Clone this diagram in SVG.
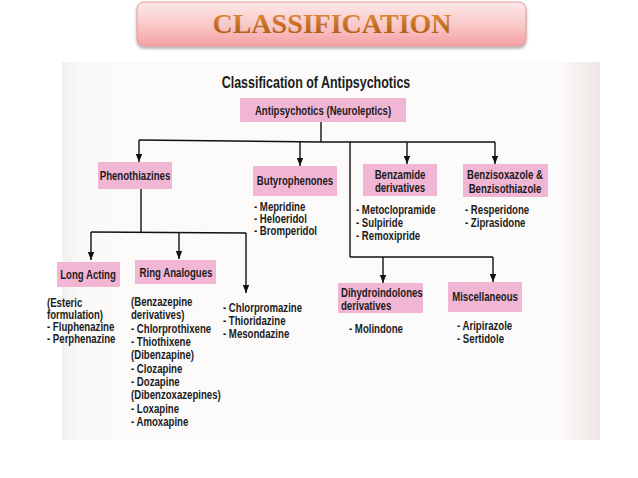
<svg xmlns="http://www.w3.org/2000/svg" width="638" height="478" viewBox="0 0 638 478">
<defs>
<linearGradient id="hdr" x1="0" y1="0" x2="0" y2="1">
<stop offset="0" stop-color="#fde9e9"/>
<stop offset="0.55" stop-color="#f9c6c6"/>
<stop offset="1" stop-color="#f3a0a3"/>
</linearGradient>
<linearGradient id="ttl" x1="0" y1="0" x2="0" y2="1">
<stop offset="0" stop-color="#eb9440"/>
<stop offset="1" stop-color="#a5520f"/>
</linearGradient>
<linearGradient id="page" x1="0" y1="0" x2="1" y2="0">
<stop offset="0" stop-color="#f3f1f0"/>
<stop offset="0.04" stop-color="#fbfaf9"/>
<stop offset="0.92" stop-color="#fcfbfb"/>
<stop offset="1" stop-color="#f1e5e5"/>
</linearGradient>
<marker id="ah" viewBox="0 0 10 8" refX="10" refY="4" markerWidth="8" markerHeight="6.5" markerUnits="userSpaceOnUse" orient="auto">
<path d="M0 0 L10 4 L0 8 Z" fill="#111"/>
</marker>
<filter id="sh" x="-5%" y="-20%" width="110%" height="150%">
<feDropShadow dx="0" dy="2" stdDeviation="1.5" flood-color="#000" flood-opacity="0.35"/>
</filter>
</defs>
<style>
.t{font-family:"Liberation Sans",Arial,sans-serif;font-weight:bold;font-size:12.5px;fill:#1c1c1c}
.m{text-anchor:middle}
.box{fill:#f2b6d5}
.ln{stroke:#111;stroke-width:1.4;fill:none}
</style>
<rect width="638" height="478" fill="#ffffff"/>
<rect x="62" y="62" width="538" height="378" fill="url(#page)"/>

<g id="header">
<rect x="137" y="2" width="389" height="44" rx="7" fill="url(#hdr)" stroke="#e29a9a" stroke-width="1" filter="url(#sh)"/>
<text x="332" y="33" text-anchor="middle" font-family="Liberation Serif, serif" font-weight="bold" font-size="28" fill="url(#ttl)">CLASSIFICATION</text>
</g>

<g id="title">
<text class="t m" transform="translate(316 88) scale(0.78 1)" style="font-size:16px">Classification of Antipsychotics</text>
</g>

<g id="connectors" class="ln">
<path d="M321 122 V142"/>
<path d="M139 140 L320 142 L495 142"/>
<path d="M139 140 V162" marker-end="url(#ah)"/>
<path d="M300 142 V166" marker-end="url(#ah)"/>
<path d="M350 142 V257"/>
<path d="M407 142 V164" marker-end="url(#ah)"/>
<path d="M495 142 V164" marker-end="url(#ah)"/>
<path d="M141 189 V232"/>
<path d="M91 232 L246 233"/>
<path d="M91 232 V260" marker-end="url(#ah)"/>
<path d="M179 232 V259" marker-end="url(#ah)"/>
<path d="M246 233 V293" marker-end="url(#ah)"/>
<path d="M350 257 H493"/>
<path d="M383 257 V283" marker-end="url(#ah)"/>
<path d="M493 257 V282" marker-end="url(#ah)"/>
</g>

<g id="root">
<rect class="box" x="240" y="98" width="166" height="24"/>
<text class="t m" transform="translate(323 115) scale(0.77 1)">Antipsychotics (Neuroleptics)</text>
</g>

<g id="phenothiazines">
<rect class="box" x="98" y="162" width="74" height="27"/>
<text class="t m" transform="translate(135 180) scale(0.77 1)">Phenothiazines</text>
</g>

<g id="butyrophenones">
<rect class="box" x="253" y="166" width="84" height="30"/>
<text class="t m" transform="translate(295 185) scale(0.77 1)">Butyrophenones</text>
<text class="t" transform="translate(254 211) scale(0.77 1)">- Mepridine</text>
<text class="t" transform="translate(254 223) scale(0.77 1)">- Heloeridol</text>
<text class="t" transform="translate(254 235) scale(0.77 1)">- Bromperidol</text>
</g>

<g id="benzamide">
<rect class="box" x="363" y="164" width="74" height="32"/>
<text class="t m" transform="translate(400 179) scale(0.77 1)">Benzamide</text>
<text class="t m" transform="translate(400 192) scale(0.77 1)">derivatives</text>
<text class="t" transform="translate(356 214) scale(0.77 1)">- Metoclopramide</text>
<text class="t" transform="translate(356 227) scale(0.77 1)">- Sulpiride</text>
<text class="t" transform="translate(356 240) scale(0.77 1)">- Remoxipride</text>
</g>

<g id="benzisoxazole">
<rect class="box" x="463" y="164" width="85" height="33"/>
<text class="t m" transform="translate(505 179) scale(0.77 1)">Benzisoxazole &amp;</text>
<text class="t m" transform="translate(505 193) scale(0.77 1)">Benzisothiazole</text>
<text class="t" transform="translate(465 214) scale(0.77 1)">- Resperidone</text>
<text class="t" transform="translate(465 227) scale(0.77 1)">- Ziprasidone</text>
</g>

<g id="long-acting">
<rect class="box" x="57" y="262" width="63" height="25"/>
<text class="t m" transform="translate(88 279) scale(0.77 1)">Long Acting</text>
<text class="t" transform="translate(47 307) scale(0.77 1)">(Esteric</text>
<text class="t" transform="translate(47 319) scale(0.77 1)">formulation)</text>
<text class="t" transform="translate(47 331) scale(0.77 1)">- Fluphenazine</text>
<text class="t" transform="translate(47 343) scale(0.77 1)">- Perphenazine</text>
</g>

<g id="ring-analogues">
<rect class="box" x="135" y="260" width="81" height="24"/>
<text class="t m" transform="translate(176 277) scale(0.77 1)">Ring Analogues</text>
<text class="t" transform="translate(131 306) scale(0.77 1)">(Benzazepine</text>
<text class="t" transform="translate(131 319) scale(0.77 1)">derivatives)</text>
<text class="t" transform="translate(131 333) scale(0.77 1)">- Chlorprothixene</text>
<text class="t" transform="translate(131 346) scale(0.77 1)">- Thiothixene</text>
<text class="t" transform="translate(131 359) scale(0.77 1)">(Dibenzapine)</text>
<text class="t" transform="translate(131 373) scale(0.77 1)">- Clozapine</text>
<text class="t" transform="translate(131 386) scale(0.77 1)">- Dozapine</text>
<text class="t" transform="translate(131 399) scale(0.77 1)">(Dibenzoxazepines)</text>
<text class="t" transform="translate(131 413) scale(0.77 1)">- Loxapine</text>
<text class="t" transform="translate(131 426) scale(0.77 1)">- Amoxapine</text>
</g>

<g id="chlorpromazine-group">
<text class="t" transform="translate(223 312) scale(0.77 1)">- Chlorpromazine</text>
<text class="t" transform="translate(223 325) scale(0.77 1)">- Thioridazine</text>
<text class="t" transform="translate(223 338) scale(0.77 1)">- Mesondazine</text>
</g>

<g id="dihydroindolones">
<rect class="box" x="338" y="283" width="85" height="30"/>
<text class="t" transform="translate(341 297) scale(0.77 1)">Dihydroindolones</text>
<text class="t" transform="translate(341 310) scale(0.77 1)">derivatives</text>
<text class="t" transform="translate(349 333) scale(0.77 1)">- Molindone</text>
</g>

<g id="miscellaneous">
<rect class="box" x="448" y="282" width="74" height="30"/>
<text class="t m" transform="translate(485 301) scale(0.77 1)">Miscellaneous</text>
<text class="t" transform="translate(457 330) scale(0.77 1)">- Aripirazole</text>
<text class="t" transform="translate(457 343) scale(0.77 1)">- Sertidole</text>
</g>
</svg>
